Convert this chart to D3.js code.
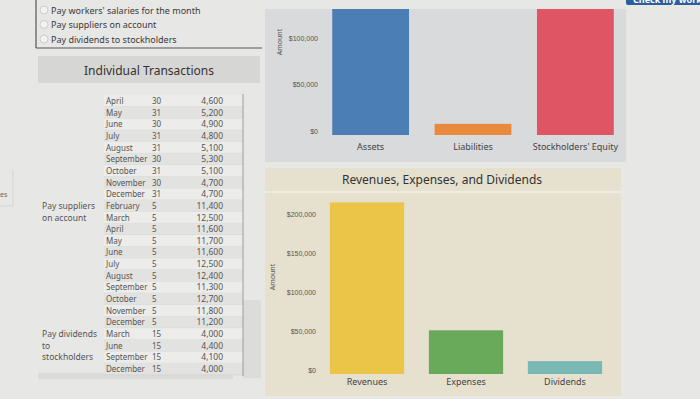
<!DOCTYPE html>
<html>
<head>
<meta charset="utf-8">
<script src="https://cdn.jsdelivr.net/npm/d3@7.9.0/dist/d3.min.js"></script>
<style>
  body { margin: 0; background: #e7e7e5; }
  svg { display: block; font-family: "Noto Sans", "Open Sans", sans-serif; }
</style>
</head>
<body>
<svg id="chart" width="700" height="399"></svg>
<script>
// accounting equation chart
const balanceCats = ['Assets', 'Liabilities', "Stockholders' Equity"];
const balanceValues = [150000, 12000, 138000];
const balanceTicks = [0, 50000, 100000];

// revenues / expenses / dividends chart
const flowCats = ['Revenues', 'Expenses', 'Dividends'];
const flowValues = [220000, 56000, 16500];
const flowTicks = [0, 50000, 100000, 150000, 200000];

// radio options
const options = ["Pay workers' salaries for the month", 'Pay suppliers on account', 'Pay dividends to stockholders'];

// table rows
const txGroups = [
  { label: ['', ''], months: ['April', 'May', 'June', 'July', 'August', 'September', 'October', 'November', 'December'],
    days: [30, 31, 30, 31, 31, 30, 31, 30, 31],
    amounts: [4600, 5200, 4900, 4800, 5100, 5300, 5100, 4700, 4700] },
  { label: ['Pay suppliers', 'on account'], months: ['February', 'March', 'April', 'May', 'June', 'July', 'August', 'September', 'October', 'November', 'December'],
    days: [5, 5, 5, 5, 5, 5, 5, 5, 5, 5, 5],
    amounts: [11400, 12500, 11600, 11700, 11600, 12500, 12400, 11300, 12700, 11800, 11200] },
  { label: ['Pay dividends', 'to', 'stockholders'], months: ['March', 'June', 'September', 'December'],
    days: [15, 15, 15, 15],
    amounts: [4000, 4400, 4100, 4000] },
];

const colorsTop = ['#4b7eb4', '#e8893c', '#e05564'];
const colorsBottom = ['#ebc547', '#69a95a', '#7ab8b4'];

const svg = d3.select('#chart');
const fmtMoney = d => '$' + d3.format(',')(d);
const fmtNum = d3.format(',');

// --- left side ---
svg.append('line').attr('x1', 36).attr('x2', 36).attr('y1', 0).attr('y2', 48).attr('stroke', '#555').attr('stroke-width', 1.2);
svg.append('line').attr('x1', 36).attr('x2', 262).attr('y1', 48).attr('y2', 48).attr('stroke', '#555').attr('stroke-width', 1.2);

const opt = svg.append('g').selectAll('g').data(options).join('g')
  .attr('transform', (d, i) => `translate(0, ${10 + i * 14.5})`);
opt.append('circle').attr('cx', 44).attr('cy', 0).attr('r', 4)
  .attr('fill', '#f2f2f0').attr('stroke', '#c4c4c4').attr('stroke-width', 0.8);
opt.append('text').attr('x', 51).attr('y', 3.5).attr('font-size', 9).attr('fill', '#3a3a3a').text(d => d);

svg.append('rect').attr('x', 38).attr('y', 56).attr('width', 222).attr('height', 27).attr('fill', '#d6d6d4');
svg.append('text').attr('x', 149).attr('y', 75).attr('text-anchor', 'middle')
  .attr('font-size', 12).attr('fill', '#333').text('Individual Transactions');

// table
const rows = [];
txGroups.forEach((g, gi) => {
  g.months.forEach((m, i) => rows.push({ group: gi, first: i === 0, month: m, day: g.days[i], amount: g.amounts[i] }));
});
const rowY = d3.scaleLinear().domain([0, rows.length - 1]).range([101, 369]);
const step = rowY(1) - rowY(0);

const tbl = svg.append('g');
tbl.append('rect').attr('x', 243).attr('y', 300).attr('width', 18).attr('height', 78).attr('fill', '#dcdcda');
tbl.append('rect').attr('x', 38).attr('y', 373).attr('width', 195).attr('height', 6).attr('fill', '#dadad8');

const rowG = tbl.selectAll('g.row').data(rows).join('g').attr('class', 'row')
  .attr('transform', (d, i) => `translate(0, ${rowY(i)})`);
rowG.append('rect').attr('x', 104).attr('y', -step / 2).attr('width', 139).attr('height', step)
  .attr('fill', (d, i) => i % 2 ? '#e2e2e0' : '#ececea');
rowG.append('line').attr('x1', 104).attr('x2', 243).attr('y1', step / 2).attr('y2', step / 2)
  .attr('stroke', '#d2d2d0').attr('stroke-width', 0.6);
rowG.append('text').attr('x', 106).attr('y', 3).attr('font-size', 8).attr('fill', '#555').text(d => d.month);
rowG.append('text').attr('x', 152).attr('y', 3).attr('font-size', 8).attr('fill', '#555').text(d => d.day);
rowG.append('text').attr('x', 223).attr('y', 3).attr('text-anchor', 'end').attr('font-size', 8.5).attr('fill', '#555').text(d => fmtNum(d.amount));

tbl.append('line').attr('x1', 243).attr('x2', 243).attr('y1', 94).attr('y2', 376).attr('stroke', '#8a8a88').attr('stroke-width', 0.8);

let offset = 0;
txGroups.forEach(g => {
  g.label.forEach((l, j) => {
    if (!l) return;
    tbl.append('text').attr('x', 42).attr('y', rowY(offset) + 3 + j * step)
      .attr('font-size', 8.5).attr('fill', '#555').text(l);
  });
  offset += g.months.length;
});

// fragment at far left edge
svg.append('path').attr('d', 'M13,170 V206 H0').attr('fill', 'none').attr('stroke', '#d5d5d3');
svg.append('text').attr('x', 0).attr('y', 197).attr('font-size', 7).attr('fill', '#666').text('es');

// button in top right
svg.append('rect').attr('x', 626).attr('y', -10).attr('width', 80).attr('height', 15).attr('rx', 2).attr('fill', '#2d5e9c');
svg.append('text').attr('x', 633).attr('y', 3).attr('font-size', 9).attr('font-weight', 'bold').attr('fill', '#fff').text('Check my work');

// --- top chart ---
const topG = svg.append('g');
topG.append('rect').attr('x', 265).attr('y', 9).attr('width', 361).attr('height', 153).attr('fill', '#d9dadb');
topG.append('clipPath').attr('id', 'clipTop').append('rect').attr('x', 265).attr('y', 9).attr('width', 361).attr('height', 153);

const xTop = d3.scaleBand().domain(balanceCats).range([322, 624]).paddingInner(0.25).paddingOuter(0.1);
const yTop = d3.scaleLinear().domain([0, 100000]).range([135, 42]);

topG.append('g').attr('clip-path', 'url(#clipTop)').selectAll('rect').data(balanceValues).join('rect')
  .attr('x', (d, i) => xTop(balanceCats[i])).attr('width', xTop.bandwidth())
  .attr('y', d => yTop(d)).attr('height', d => yTop(0) - yTop(d))
  .attr('fill', (d, i) => colorsTop[i]);

const axTop = topG.append('g').attr('transform', 'translate(318, -4)')
  .call(d3.axisLeft(yTop).tickValues(balanceTicks).tickFormat(fmtMoney).tickSize(0).tickPadding(0));
axTop.select('.domain').remove();
axTop.selectAll('text').attr('font-size', 7).attr('fill', '#555').attr('font-family', null);

topG.append('text').attr('transform', 'translate(282, 42) rotate(-90)').attr('text-anchor', 'middle')
  .attr('font-size', 7).attr('fill', '#555').text('Amount');

topG.append('g').selectAll('text').data(balanceCats).join('text')
  .attr('x', d => xTop(d) + xTop.bandwidth() / 2).attr('y', 150).attr('text-anchor', 'middle')
  .attr('font-size', 9).attr('fill', '#444').text(d => d);

// --- bottom chart ---
const botG = svg.append('g');
botG.append('rect').attr('x', 265).attr('y', 168).attr('width', 356).attr('height', 228).attr('fill', '#e6e0cf');
botG.append('line').attr('x1', 265).attr('x2', 621).attr('y1', 192).attr('y2', 192).attr('stroke', '#f4f1e8').attr('stroke-width', 1.5);
botG.append('text').attr('x', 442).attr('y', 184).attr('text-anchor', 'middle')
  .attr('font-size', 12).attr('fill', '#333').text('Revenues, Expenses, and Dividends');

const xBot = d3.scaleBand().domain(flowCats).range([320, 612]).paddingInner(0.25).paddingOuter(0.1);
const yBot = d3.scaleLinear().domain([0, 200000]).range([374, 218]);

botG.append('g').selectAll('rect').data(flowValues).join('rect')
  .attr('x', (d, i) => xBot(flowCats[i])).attr('width', xBot.bandwidth())
  .attr('y', d => yBot(d)).attr('height', d => yBot(0) - yBot(d))
  .attr('fill', (d, i) => colorsBottom[i]);

const axBot = botG.append('g').attr('transform', 'translate(316, -4)')
  .call(d3.axisLeft(yBot).tickValues(flowTicks).tickFormat(fmtMoney).tickSize(0).tickPadding(0));
axBot.select('.domain').remove();
axBot.selectAll('text').attr('font-size', 7).attr('fill', '#555').attr('font-family', null);

botG.append('text').attr('transform', 'translate(275, 277) rotate(-90)').attr('text-anchor', 'middle')
  .attr('font-size', 7).attr('fill', '#555').text('Amount');

botG.append('g').selectAll('text').data(flowCats).join('text')
  .attr('x', d => xBot(d) + xBot.bandwidth() / 2).attr('y', 385).attr('text-anchor', 'middle')
  .attr('font-size', 9).attr('fill', '#444').text(d => d);
</script>
</body>
</html>
